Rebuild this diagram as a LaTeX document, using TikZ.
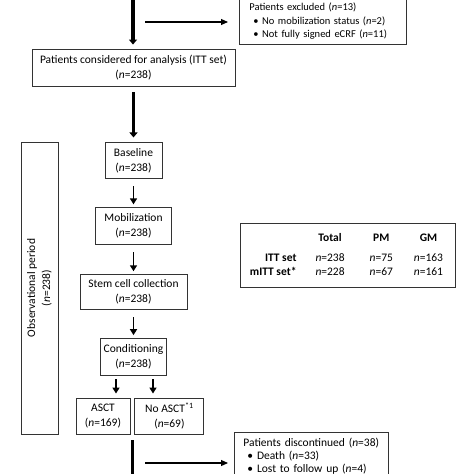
\documentclass[tikz,border=0pt]{standalone}
\usepackage{fontspec}
\setmainfont{Carlito}
\usetikzlibrary{arrows.meta,calc,positioning}
\tikzset{
    box/.style ={draw=black!80, line width=0.9pt, align=center, inner sep=3pt,
                 font=\fontsize{11.5}{15}\selectfont},
    listbox/.style ={box, align=left, inner xsep=9pt, font=\fontsize{11.5}{13.5}\selectfont},
    arr/.style = {-{Triangle[length=6pt,width=7pt]}, line width=1.8pt},
    bigarr/.style = {-{Triangle[length=5pt,width=8pt]}, line width=3.6pt},
    side/.style = {-{Triangle[length=7pt,width=6pt]}, line width=1.1pt}
}
\newcommand{\pn}{\textit{n}}
\begin{document}
\begin{tikzpicture}[x=1pt,y=-1pt]
    \useasboundingbox (0,0) rectangle (474,474);
    \clip (0,0) rectangle (474,474);

    % main column
    \node[box, minimum width=203pt, minimum height=37pt] (itt) at (133.5,67.5)
        {Patients considered for analysis (ITT set)\\(\pn=238)};
    \node[box, minimum width=57pt, minimum height=36pt, below=56pt of itt] (base) {Baseline\\(\pn=238)};
    \node[box, minimum width=76pt, minimum height=37pt, below=28pt of base] (mob) {Mobilization\\(\pn=238)};
    \node[box, minimum width=107pt, minimum height=35pt, below=29pt of mob] (stem) {Stem cell collection\\(\pn=238)};
    \node[box, minimum width=61pt, minimum height=37pt, below=28pt of stem] (cond) {Conditioning\\(\pn=238)};
    \node[box, minimum width=54pt, minimum height=36pt] (ascts) at (103,416) {ASCT\\(\pn=169)};
    \node[box, minimum width=69pt, minimum height=36pt, right=4pt of ascts] (noascts) {No ASCT\textsuperscript{*1}\\(\pn=69)};

    % side boxes
    \node[box, rotate=90, minimum width=292pt, minimum height=37pt] (obs) at (39.5,288)
        {Observational period\\(\pn=238)};
    \node[listbox, anchor=south west, text width=147pt, inner xsep=10pt, inner ysep=5pt,
          font=\fontsize{10.5}{13.5}\selectfont] (excl) at (239,45)
        {Patients excluded (\pn=13)\\
         \hspace*{4pt}\textbullet\ No mobilization status (\pn=2)\\
         \hspace*{4pt}\textbullet\ Not fully signed eCRF (\pn=11)};
    \node[listbox, anchor=north west, text width=136pt, inner ysep=5.5pt, font=\fontsize{11.5}{13}\selectfont] (disc) at (234,432)
        {Patients discontinued (\pn=38)\\
         \hspace*{4pt}\textbullet\ Death (\pn=33)\\
         \hspace*{4pt}\textbullet\ Lost to follow up (\pn=4)};
    \node[box, minimum width=215pt, minimum height=64pt] (tab) at (347.5,255)
        {\begin{tabular}{@{}r@{\hspace{19pt}}c@{\hspace{25pt}}c@{\hspace{21pt}}c@{}}
          & \textbf{Total} & \textbf{PM} & \textbf{GM}\\[5pt]
          \textbf{ITT set} & \pn=238 & \pn=75 & \pn=163\\[-1pt]
          \textbf{mITT set*} & \pn=228 & \pn=67 & \pn=161
         \end{tabular}\hspace*{2pt}};

    % connectors
    \coordinate (top) at (133,-10);
    \coordinate (exclstart) at (145,22);
    \coordinate (discstart) at (145,463);
    \coordinate (split) at ($(ascts.south east)!.5!(noascts.south west)$);

    \draw[bigarr, shorten >=4pt] (top) -- (top |- itt.north);
    \draw[side, shorten >=11pt] (exclstart) -- (exclstart -| excl.west);
    \draw[bigarr, shorten <=6pt, shorten >=5pt] (itt) -- (base);
    \draw[arr, shorten <=7pt, shorten >=3pt] (base) -- (mob);
    \draw[arr, shorten <=7pt, shorten >=3pt] (mob) -- (stem);
    \draw[arr, shorten <=7pt, shorten >=3pt] (stem) -- (cond);
    \draw[arr, shorten <=3pt, shorten >=4pt] ([xshift=-17.5pt]cond.south) -- ([xshift=-17.5pt]cond.south |- ascts.north);
    \draw[arr, shorten <=3pt, shorten >=4pt] ([xshift=19.5pt]cond.south) -- ([xshift=19.5pt]cond.south |- noascts.north);
    \draw[line width=3.6pt, shorten <=6pt] (split) -- ++(0,50);
    \draw[side, shorten >=6pt] (discstart) -- (discstart -| disc.west);
\end{tikzpicture}
\end{document}
